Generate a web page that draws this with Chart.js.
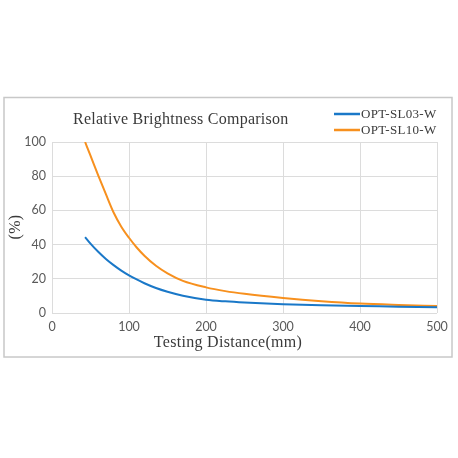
<!DOCTYPE html>
<html>
<head>
<meta charset="utf-8">
<script src="https://cdn.jsdelivr.net/npm/chart.js@4/dist/chart.umd.min.js"></script>
<style>
html,body{margin:0;padding:0;background:#fff;}
#wrap{position:absolute;left:0;top:0;width:458px;height:458px;}
</style>
</head>
<body>
<div id="wrap"><canvas id="c" width="458" height="458"></canvas></div>
<script>
const distances = [43,50,60,70,80,90,100,110,120,135,150,170,200,225,250,300,350,400,450,500];
const sl03 = [44.4,40.6,35.8,31.6,28,24.8,22,19.6,17.4,14.6,12.4,10.1,7.8,6.8,6.1,5.1,4.5,4.1,3.7,3.3];
const sl10 = [100,92,80.5,69.5,58.8,50.5,44,38.3,33.5,27.6,23.2,18.8,15,12.8,11.2,8.8,6.9,5.5,4.7,4.1];
const seriesNames = ['OPT-SL03-W','OPT-SL10-W'];
const seriesColors = ['#1a78c8','#f7901e'];
const xTicks = [0,100,200,300,400,500];
const yTicks = [0,20,40,60,80,100];
const chartTitle = 'Relative Brightness Comparison';
const xTitle = 'Testing Distance(mm)';
const yTitle = '(%)';

const toPts = (vals) => distances.map((d,i)=>({x:d,y:vals[i]}));

const overlay = {
  id:'overlay',
  beforeDraw(chart){
    const ctx = chart.ctx;
    ctx.save();
    ctx.fillStyle='#fff';
    ctx.fillRect(0,0,chart.width,chart.height);
    ctx.strokeStyle='#c8c8c8';
    ctx.lineWidth=1.5;
    ctx.strokeRect(4,97.5,448,259.5);
    ctx.restore();
  },
  afterDraw(chart){
    const ctx = chart.ctx;
    ctx.save();
    ctx.fillStyle='#3a3a3a';
    ctx.font='16px "Liberation Serif"';
    ctx.textBaseline='alphabetic';
    ctx.textAlign='left';
    try{ctx.letterSpacing='0.25px';}catch(e){}
    ctx.fillText(chartTitle,73,124);
    // legend
    ctx.font='13px "Liberation Serif"';
    try{ctx.letterSpacing='0.3px';}catch(e){}
    ctx.textBaseline='middle';
    chart.data.datasets.forEach((ds,i)=>{
      const y = 114 + i*16;
      ctx.strokeStyle = ds.borderColor;
      ctx.lineWidth = 2.5;
      ctx.beginPath(); ctx.moveTo(334,y); ctx.lineTo(360,y); ctx.stroke();
      ctx.fillStyle='#3a3a3a';
      ctx.fillText(ds.label,361,y+1);
    });
    // x title
    ctx.font='16px "Liberation Serif"';
    try{ctx.letterSpacing='0.3px';}catch(e){}
    ctx.textAlign='center';
    ctx.textBaseline='alphabetic';
    ctx.fillText(xTitle,228,347);
    // y title
    ctx.translate(20,227);
    ctx.rotate(-Math.PI/2);
    ctx.font='16px "Liberation Serif"';
    ctx.textBaseline='alphabetic';
    ctx.fillText(yTitle,0,0);
    ctx.restore();
  }
};

new Chart(document.getElementById('c'),{
  type:'line',
  data:{
    datasets:[
      {label:seriesNames[0],data:toPts(sl03),borderColor:seriesColors[0],borderWidth:2,pointRadius:0,cubicInterpolationMode:'monotone',fill:false},
      {label:seriesNames[1],data:toPts(sl10),borderColor:seriesColors[1],borderWidth:2,pointRadius:0,cubicInterpolationMode:'monotone',fill:false}
    ]
  },
  options:{
    responsive:false,
    animation:false,
    devicePixelRatio:1,
    layout:{padding:{left:0,right:21,top:142,bottom:125}},
    plugins:{legend:{display:false},title:{display:false},tooltip:{enabled:false}},
    scales:{
      x:{
        type:'linear',min:0,max:500,
        afterBuildTicks(s){s.ticks=xTicks.map(v=>({value:v}));},
        afterFit(s){s.height=20;},
        grid:{color:'#dcdcdc',lineWidth:1,drawTicks:false},
        border:{display:false},
        ticks:{padding:6,color:'#5a5a5a',font:{family:'Lato',size:12.5}}
      },
      y:{
        min:0,max:100,
        afterBuildTicks(s){s.ticks=yTicks.map(v=>({value:v}));},
        afterFit(s){s.width=52;},
        grid:{color:'#dcdcdc',lineWidth:1,drawTicks:false},
        border:{display:false},
        ticks:{padding:6,color:'#5a5a5a',font:{family:'Lato',size:12.5}}
      }
    }
  },
  plugins:[overlay]
});
</script>
</body>
</html>
